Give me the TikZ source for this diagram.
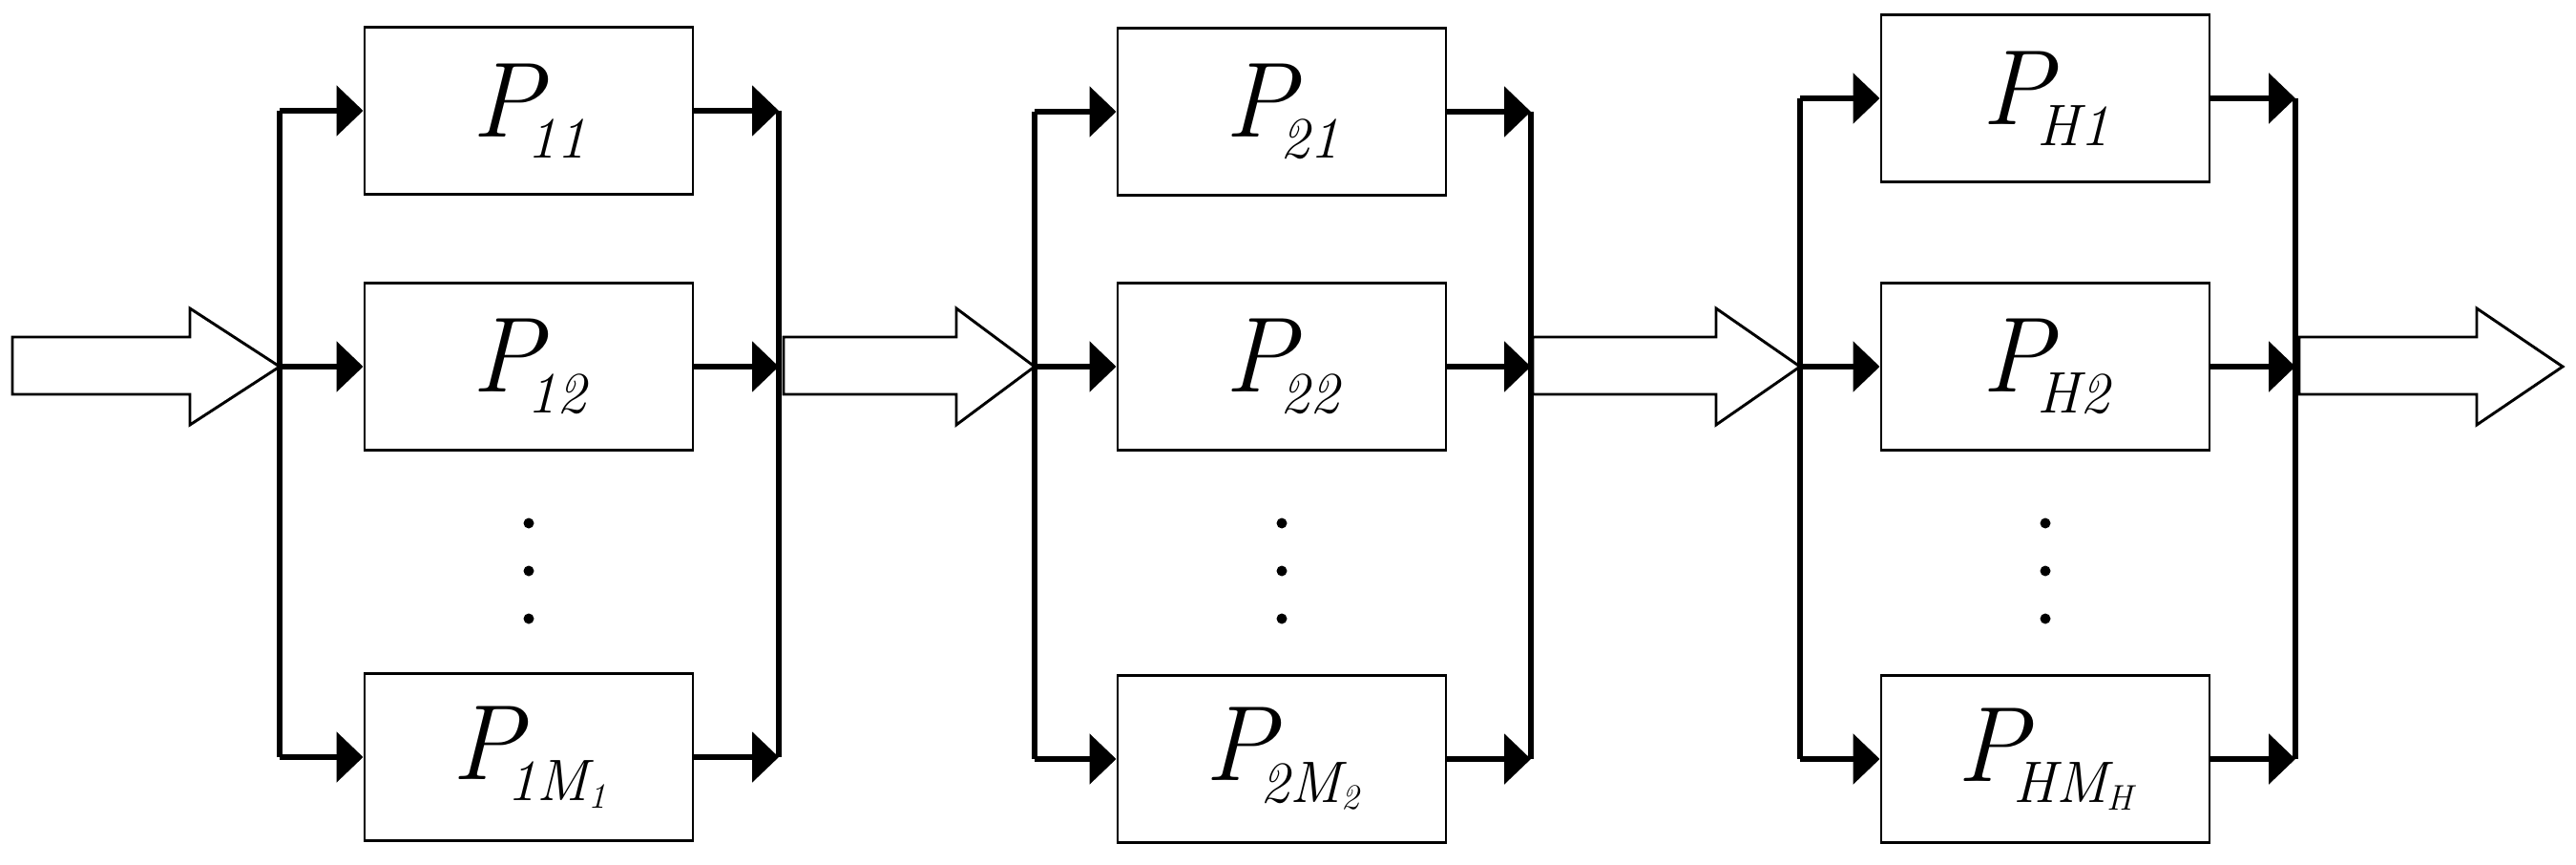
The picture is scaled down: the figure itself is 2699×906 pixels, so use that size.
\documentclass[tikz,border=0pt]{standalone}
\usepackage{fontspec}
\usetikzlibrary{arrows.meta}
\newcommand\subs[1]{\kern-0.14em\raisebox{-0.2em}{\fontsize{46}{46}\selectfont #1}}
\newcommand\subsub[1]{\raisebox{-0.12em}{\fontsize{28}{28}\selectfont #1}}
\begin{document}
\begin{tikzpicture}[x=0.75pt,y=-0.75pt,
  box/.style={draw,line width=2.2pt,minimum width=258pt,minimum height=131pt,inner sep=0pt,font=\fontsize{84}{84}\selectfont\itshape},
  bus/.style={line width=4.5pt},
  tip/.style={line width=4.5pt,-{Triangle[length=21pt,width=39pt]}},
  big/.style={draw,line width=2.2pt,fill=white}]
\useasboundingbox (0,0) rectangle (2699,906);
\newcommand\stage[8]{%
  \node[box] (#1a) at (#3,#5) {P\subs{#71}};
  \node[box] (#1b) at (#3,384) {P\subs{#72}};
  \node[box] (#1c) at (#3,#6) {P\subs{#7M\subsub{#8}}};
  \coordinate (#1la) at (#2,#5); \coordinate (#1lc) at (#2,#6);
  \coordinate (#1lb) at (#2,384);
  \coordinate (#1ra) at (#4,#5); \coordinate (#1rc) at (#4,#6);
  \coordinate (#1rb) at (#4,384);
  \draw[bus] (#1la) -- (#1lc);
  \draw[bus] (#1ra) -- (#1rc);
  \draw[tip] (#1la) -- (#1a.west);
  \draw[tip] (#1lb) -- (#1b.west);
  \draw[tip] (#1lc) -- (#1c.west);
  \draw[tip] (#1a.east) -- (#1ra);
  \draw[tip] (#1b.east) -- (#1rb);
  \draw[tip] (#1c.east) -- (#1rc);
  \foreach \yy in {548,598,648} \fill (#3,\yy) circle (5.5);
}
\stage{s}{293}{554}{816}{116}{793}{1}{1}
\stage{t}{1084}{1343}{1604}{117}{795}{2}{2}
\stage{u}{1886}{2143}{2405}{103}{795}{H}{H}
\draw[big] (13,353) -- (199,353) -- (199,323) -- (293,384) -- (199,445) -- (199,413) -- (13,413) -- cycle;
\draw[big] (821,353) -- (1002,353) -- (1002,323) -- (1084,384) -- (1002,445) -- (1002,413) -- (821,413) -- cycle;
\draw[big] (1606,353) -- (1798,353) -- (1798,323) -- (1886,384) -- (1798,445) -- (1798,413) -- (1606,413) -- cycle;
\draw[big] (2409,353) -- (2595,353) -- (2595,323) -- (2685,384) -- (2595,445) -- (2595,413) -- (2409,413) -- cycle;
\end{tikzpicture}
\end{document}
